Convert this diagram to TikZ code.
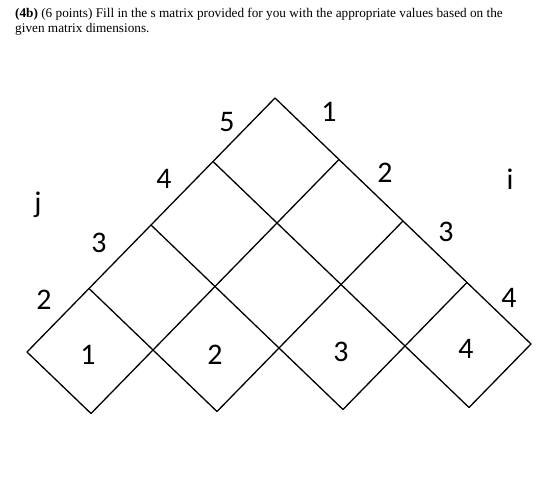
\documentclass[tikz,border=0pt]{standalone}
\usepackage{fontspec}
\setmainfont{Liberation Serif}
\newfontfamily\lblfont{Carlito}
\begin{document}
\begin{tikzpicture}[x=1bp,y=-1bp,
  gridline/.style={line width=1.3bp,black,line cap=round,line join=round},
  lbl/.style={inner sep=0pt,font=\lblfont\fontsize{30}{36}\selectfont},
  head/.style={inner sep=0pt,anchor=base west,font=\fontsize{13.3}{15}\selectfont}]
\useasboundingbox (0,0) rectangle (546,484);
% lattice points
\foreach \a in {0,...,5}{
  \foreach \b in {0,...,5}{
    \coordinate (p-\a-\b) at ({275+64*\a-62*\b},{98+61.5*\a+63.5*\b});
  }
}
% lines of constant b
\draw[gridline] (p-0-0) -- (p-4-0);
\draw[gridline] (p-0-1) -- (p-4-1);
\draw[gridline] (p-0-2) -- (p-3-2);
\draw[gridline] (p-0-3) -- (p-2-3);
\draw[gridline] (p-0-4) -- (p-1-4);
% lines of constant a
\draw[gridline] (p-0-0) -- (p-0-4);
\draw[gridline] (p-1-0) -- (p-1-4);
\draw[gridline] (p-2-0) -- (p-2-3);
\draw[gridline] (p-3-0) -- (p-3-2);
\draw[gridline] (p-4-0) -- (p-4-1);
% header
\node[head] (h1) at (15,18) {\textbf{(4b)} (6 points) Fill in the s matrix provided for you with the appropriate values based on the};
\node[head] (h2) at (15,32.5) {given matrix dimensions.};
% left labels
\node[lbl] (j) at (38,205) {j};
\node[lbl] (l2) at (44,300) {2};
\node[lbl] (l3) at (99,243) {3};
\node[lbl] (l4) at (164,179) {4};
\node[lbl] (l5) at (227,122) {5};
% right labels
\node[lbl] (i) at (510,179) {i};
\node[lbl] (r1) at (329,112) {1};
\node[lbl] (r2) at (385,173) {2};
\node[lbl] (r3) at (446,232) {3};
\node[lbl] (r4) at (509,298) {4};
% bottom cell labels
\node[lbl] (c1) at (88,355) {1};
\node[lbl] (c2) at (215,355) {2};
\node[lbl] (c3) at (341,352) {3};
\node[lbl] (c4) at (466,349) {4};
\end{tikzpicture}
\end{document}
